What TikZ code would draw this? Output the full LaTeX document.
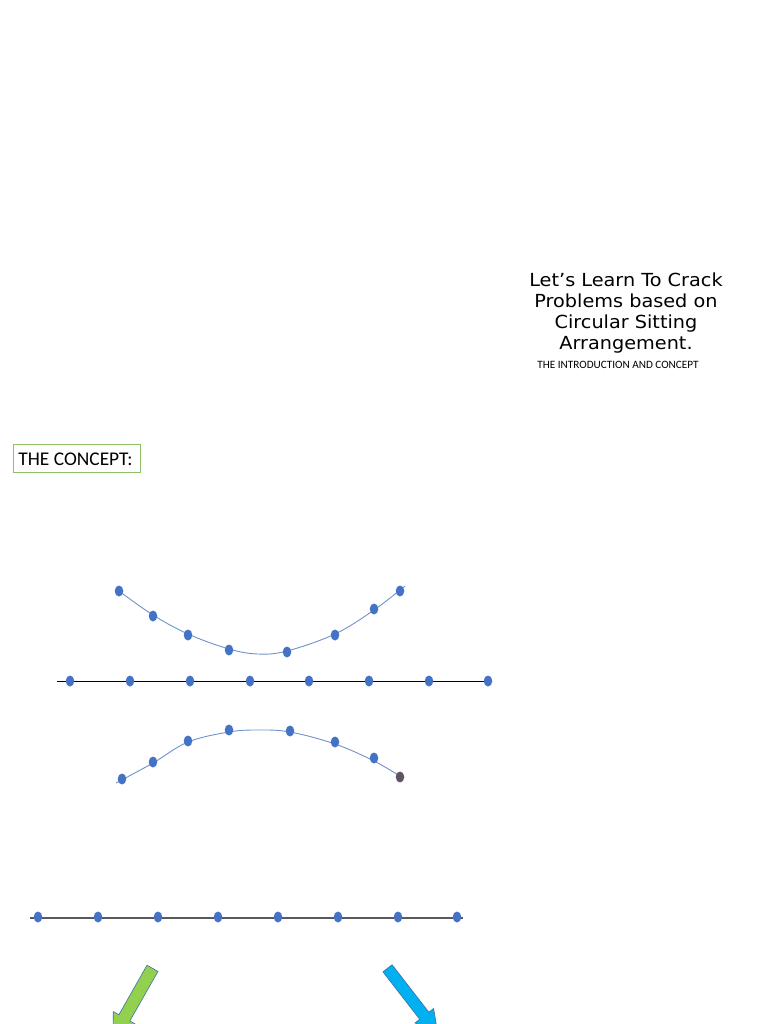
\documentclass[tikz,border=0pt]{standalone}
\usepackage{fontspec}
\setmainfont{Carlito}
\newfontfamily\titlefont[FakeStretch=1.07]{DejaVu Sans}
\usetikzlibrary{shapes.geometric}
\definecolor{dotblue}{HTML}{4472C4}
\definecolor{dotgray}{HTML}{5F5563}
\definecolor{curveblue}{HTML}{7092C8}
\definecolor{boxgreen}{HTML}{8CC16A}
\definecolor{arrgreen}{HTML}{92D050}
\definecolor{arrblue}{HTML}{00B0F0}
\definecolor{arredge}{HTML}{41719C}
\definecolor{linegray}{HTML}{595959}
\tikzset{
  seat/.style={ellipse, fill=dotblue, draw=none, inner sep=0pt, minimum width=8.5pt, minimum height=11pt},
  lastseat/.style={seat, fill=dotgray},
  curveline/.style={draw=curveblue, line width=0.9pt},
  rowline/.style={draw=black, line width=0.9pt},
  rowline2/.style={draw=linegray, line width=1.3pt},
  bigarrow/.style={draw=arredge, line width=0.6pt, line join=miter},
}
\begin{document}
\begin{tikzpicture}[x=1pt,y=-1pt]
\useasboundingbox (0,0) rectangle (768,1024);
\clip (0,0) rectangle (768,1024);
% title
\node[align=center, font=\titlefont\fontsize{18}{20.8}\selectfont] (title) at (626,313)
  {Let’s Learn To Crack\\Problems based on\\Circular Sitting\\Arrangement.};
\node[font=\fontsize{11.2}{13}\selectfont] (sub) at (618,365) {THE INTRODUCTION AND CONCEPT};
% concept box
\node[draw=boxgreen, line width=0.9pt, minimum width=127pt, minimum height=28pt, inner sep=0pt] (concept) at (76.5,458) {};
\node[font=\fontsize{19.4}{22}\selectfont] (concepttext) at (75.5,459) {THE CONCEPT:};
% top curve
\draw[curveline] plot[smooth, tension=0.6] coordinates {(119,591) (153,615) (188,634) (229,649) (258,654) (287,651) (335,634) (374,610) (405,586)};
\foreach \x/\y [count=\i] in {119/591,153/616,188/635,229/650,287/652,335/635,374/609,400/591}
  \node[seat] (t\i) at (\x,\y) {};
% middle line
\coordinate (mL) at (57,681);
\coordinate (mR) at (492,681);
\draw[rowline] (mL) -- (mR);
\foreach \x [count=\i] in {70,130,190,250,309,369,429,488}
  \node[seat] (m\i) at (\x,681) {};
% bottom curve
\draw[curveline] plot[smooth, tension=0.6] coordinates {(116,783) (153,763) (188,742) (229,732) (258,730) (290,732) (335,744) (374,761) (403,778)};
\foreach \x/\y [count=\i] in {122/779,153/762,188/741,229/730,290/731,335/742,374/758}
  \node[seat] (b\i) at (\x,\y) {};
\node[lastseat] (b8) at (400,777) {};
% lower line
\coordinate (lL) at (30,918);
\coordinate (lR) at (463,918);
\draw[rowline2] (lL) -- (lR);
\foreach \x [count=\i] in {38,98,158,218,278,338,398,457}
  \node[seat] (l\i) at (\x,917) {};
% arrows
\begin{scope}[shift={(152.5,968.3)}, rotate=-119.6]
  \draw[bigarrow, fill=arrgreen] (0,6.3) -- (57,6.3) -- (57,12.7) -- (80,0) -- (57,-12.7) -- (57,-6.3) -- (0,-6.3) -- cycle;
\end{scope}
\begin{scope}[shift={(387.5,968.3)}, rotate=-52.2]
  \draw[bigarrow, fill=arrblue] (0,5.8) -- (60,5.8) -- (60,11.8) -- (82,0) -- (60,-11.8) -- (60,-5.8) -- (0,-5.8) -- cycle;
\end{scope}
\end{tikzpicture}
\end{document}
